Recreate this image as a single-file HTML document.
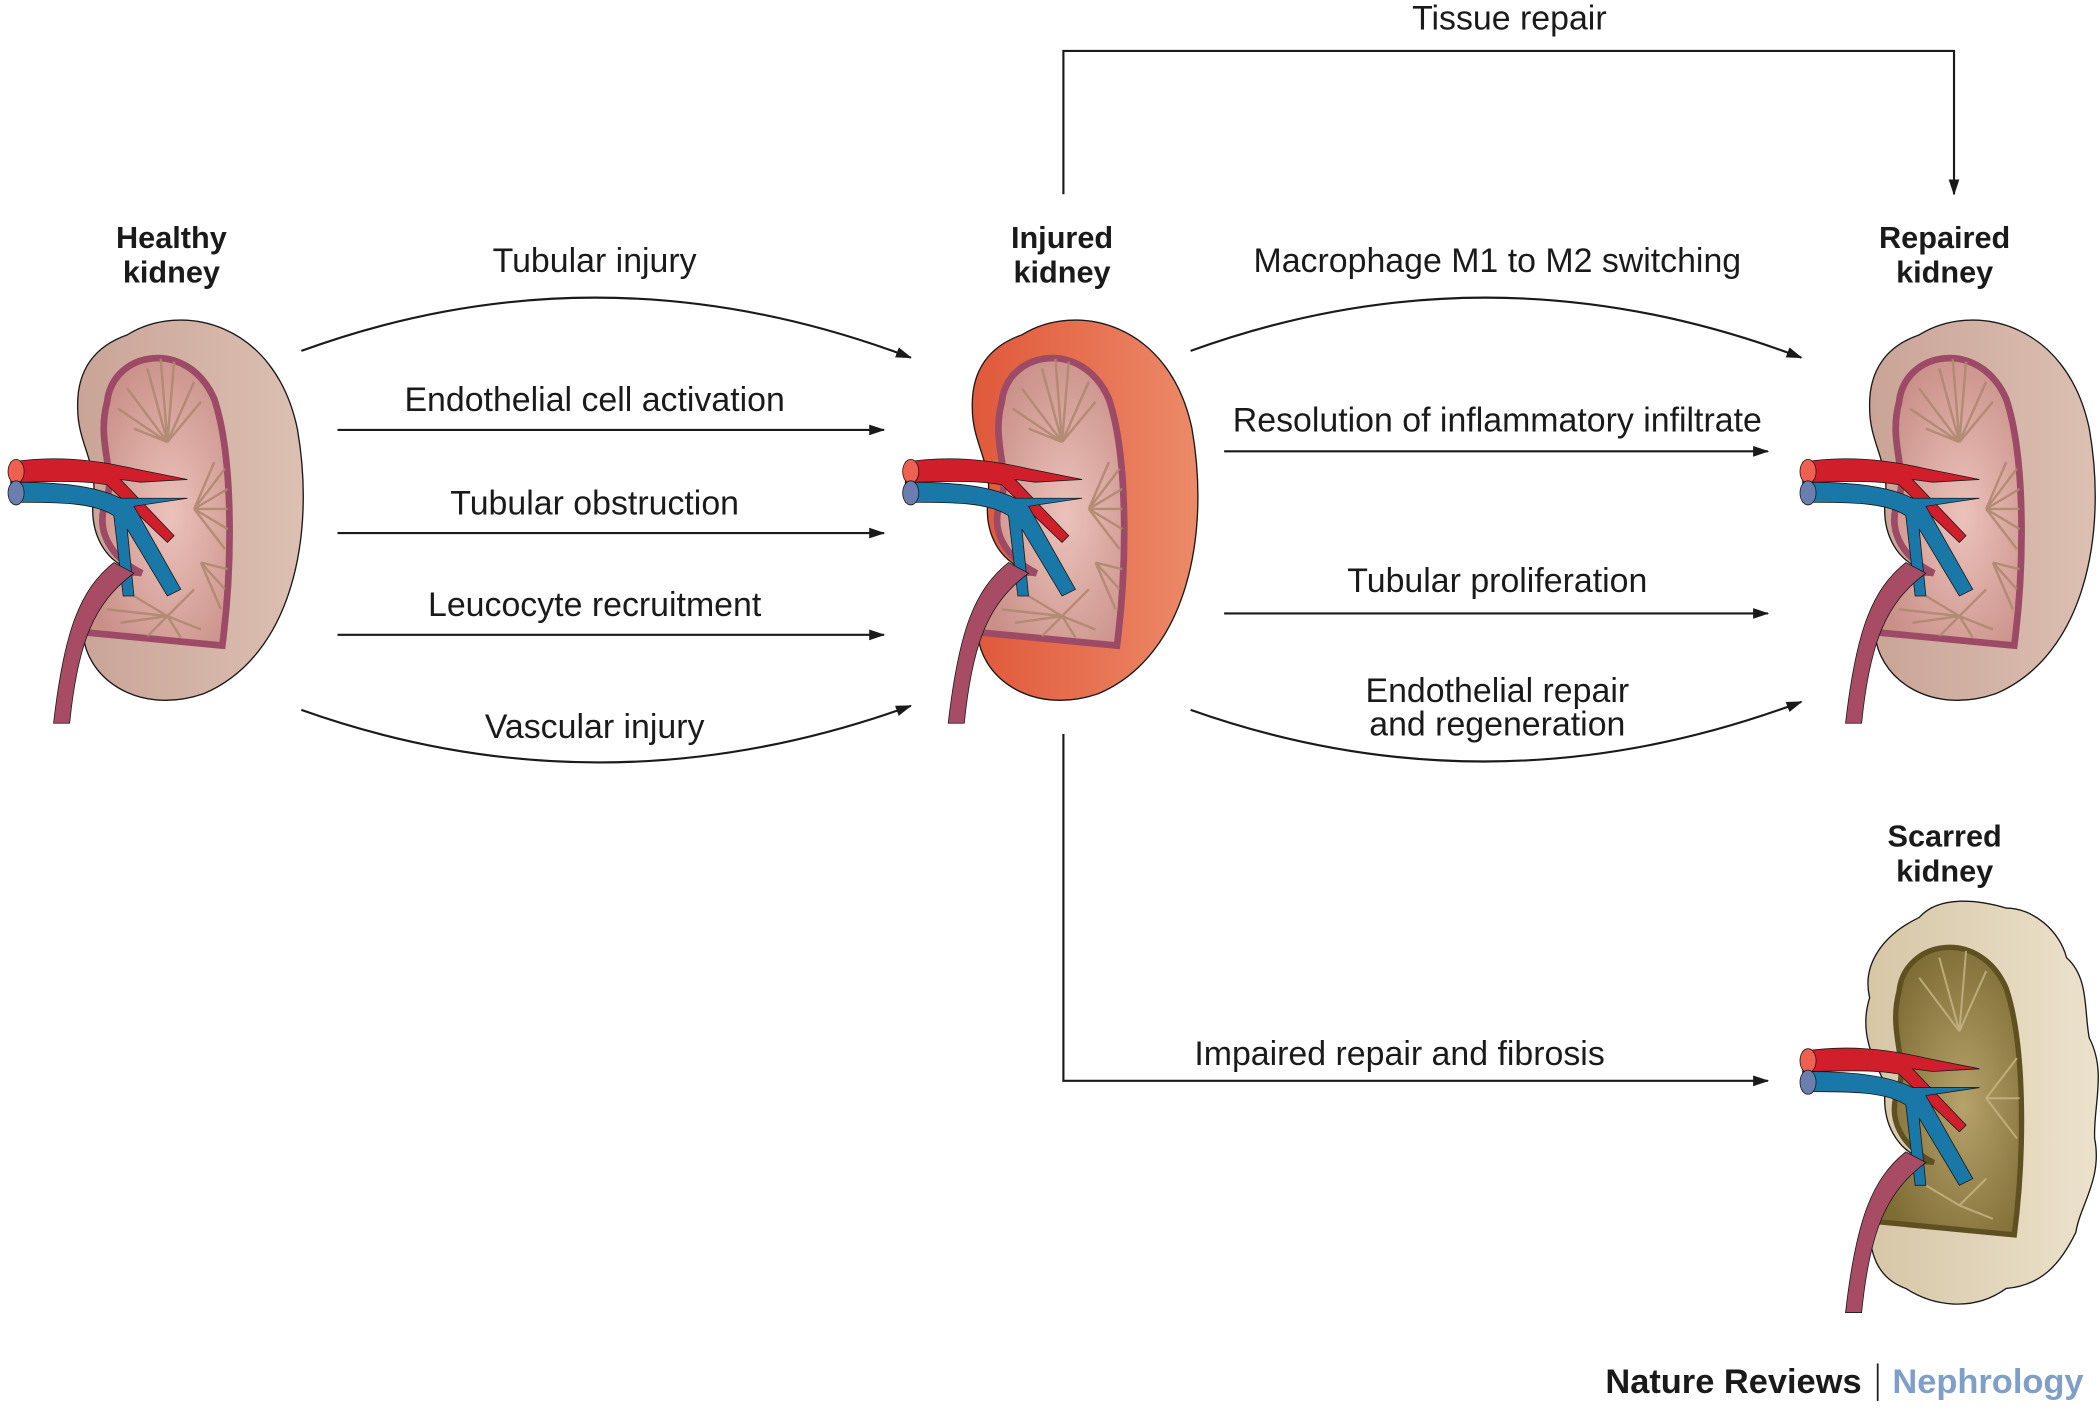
<!DOCTYPE html>
<html><head><meta charset="utf-8"><style>
html,body{margin:0;padding:0;background:#fff;}
svg{display:block;}
text{font-family:"Liberation Sans",sans-serif;fill:#1a1a1a;}
.l{font-size:25.3px;text-anchor:middle;}
.t{font-size:22.9px;font-weight:bold;text-anchor:middle;}
</style></head><body>
<svg width="2100" height="1409" viewBox="0 0 1568 1052" preserveAspectRatio="none" xmlns="http://www.w3.org/2000/svg">
<defs>
<marker id="a" markerWidth="12" markerHeight="10" refX="11" refY="5" orient="auto" markerUnits="userSpaceOnUse">
<path d="M0,1 L12,5 L0,9 Z" fill="#1a1a1a"/></marker>
<radialGradient id="cut" cx="0.6" cy="0.55" r="0.6"><stop offset="0" stop-color="#ebc2bb"/><stop offset="1" stop-color="#c99088"/></radialGradient>
<radialGradient id="cutS" cx="0.6" cy="0.55" r="0.6"><stop offset="0" stop-color="#b6a26a"/><stop offset="1" stop-color="#7d6c34"/></radialGradient>
<linearGradient id="outH" x1="0" x2="1"><stop offset="0" stop-color="#c9a497"/><stop offset="1" stop-color="#dcc0b2"/></linearGradient>
<linearGradient id="outI" x1="0" x2="1"><stop offset="0" stop-color="#e0583a"/><stop offset="1" stop-color="#ec8a68"/></linearGradient>
<linearGradient id="outS" x1="0" x2="1"><stop offset="0" stop-color="#d6c6a6"/><stop offset="1" stop-color="#ece2cc"/></linearGradient>
<g id="vess">
 <path d="M8,345 C40,340 70,343 100,350 L140,358 L105,360 L90,358 L130,400 L125,405 L80,362 C60,358 30,360 8,360 Z" fill="#d01e2a" stroke="#1a1a1a" stroke-width="0.6"/>
 <path d="M8,360 C40,360 70,362 90,372 L140,372 L100,378 L135,440 L125,445 L95,395 L100,445 L92,445 L85,385 C70,375 45,375 8,375 Z" fill="#1a78a8" stroke="#1a1a1a" stroke-width="0.6"/>
 <ellipse cx="12" cy="352" rx="6" ry="9" fill="#f06050" stroke="#1a1a1a" stroke-width="0.6"/>
 <ellipse cx="12" cy="368" rx="6" ry="9" fill="#6a7fb0" stroke="#1a1a1a" stroke-width="0.6"/>
 <path d="M85,420 C60,440 48,470 40,540 L52,540 C58,480 70,450 100,428 Z" fill="#a84b65" stroke="#1a1a1a" stroke-width="0.6"/>
</g>
<g id="inner">
 <path d="M80,300 C84,262 140,252 160,298 C174,340 174,420 166,482 L62,472 C62,440 88,424 106,428 C82,416 70,395 80,372 C86,350 72,330 80,300 Z" fill="url(#cut)" stroke="#9c4a66" stroke-width="5"/>
 <g stroke="#b08870" stroke-width="1.8" opacity="0.9">
  <path d="M125,330 L95,290 M125,330 L110,275 M125,330 L130,270 M125,330 L145,285 M125,330 L100,320 M125,330 L88,305 M125,330 L120,268 M125,330 L150,300"/>
  <path d="M145,380 L168,350 M145,380 L170,380 M145,380 L168,410 M145,380 L160,345 M145,380 L170,365 M145,380 L170,395"/>
  <path d="M125,460 L100,445 M125,460 L110,475 M125,460 L150,470 M125,460 L145,440 M125,460 L90,465 M125,460 L135,476 M125,460 L80,455"/>
  <path d="M150,420 L168,440 M150,420 L170,425 M150,420 L165,455"/>
 </g>
 <use href="#vess"/>
</g>
<path id="outer" d="M95,250 C135,225 205,240 222,320 C236,400 218,490 152,518 C102,535 62,505 62,470 C62,440 85,428 102,427 C78,420 66,398 70,370 C72,345 58,330 58,305 C57,275 72,258 95,250 Z"/>
</defs>

<use href="#outer" fill="url(#outH)" stroke="#1a1a1a" stroke-width="1"/>
<use href="#inner"/>
<g transform="translate(668,0)"><use href="#outer" fill="url(#outI)" stroke="#1a1a1a" stroke-width="1"/><use href="#inner"/></g>
<g transform="translate(1338,0)"><use href="#outer" fill="url(#outH)" stroke="#1a1a1a" stroke-width="1"/><use href="#inner"/></g>
<g transform="translate(1338,440)">
 <path d="M95,245 C110,228 140,232 160,238 C180,238 200,255 205,275 C222,290 218,315 222,335 C235,360 225,385 226,410 C232,440 215,460 212,480 C200,505 185,520 160,522 C135,540 105,535 85,522 C65,515 55,495 60,470 C62,445 85,428 102,427 C78,420 66,398 70,370 C60,350 50,330 58,305 C52,280 68,258 95,245 Z" fill="url(#outS)" stroke="#1a1a1a" stroke-width="1"/>
 <path d="M80,300 C84,262 140,252 160,298 C174,340 174,420 166,482 L62,472 C62,440 88,424 106,428 C82,416 70,395 80,372 C86,350 72,330 80,300 Z" fill="url(#cutS)" stroke="#5e5020" stroke-width="4"/>
 <g stroke="#c8b888" stroke-width="1.5" opacity="0.8">
  <path d="M125,330 L95,290 M125,330 L110,275 M125,330 L130,270 M125,330 L145,285 M145,380 L168,350 M145,380 L170,380 M145,380 L168,410 M125,460 L100,445 M125,460 L150,470 M125,460 L145,440"/>
 </g>
 <use href="#vess"/>
</g>

<text class="t" x="128" y="185">Healthy</text><text class="t" x="128" y="211">kidney</text>
<text class="t" x="793" y="185">Injured</text><text class="t" x="793" y="211">kidney</text>
<text class="t" x="1452" y="185">Repaired</text><text class="t" x="1452" y="211">kidney</text>
<text class="t" x="1452" y="632">Scarred</text><text class="t" x="1452" y="658">kidney</text>

<g stroke="#1a1a1a" stroke-width="1.6" fill="none" marker-end="url(#a)">
 <path d="M225,262 Q450,180 680,267"/>
 <path d="M252,321 L660,321"/>
 <path d="M252,398 L660,398"/>
 <path d="M252,474 L660,474"/>
 <path d="M225,530 Q450,610 680,527"/>
 <path d="M889,262 Q1115,180 1345,267"/>
 <path d="M914,337 L1320,337"/>
 <path d="M914,458 L1320,458"/>
 <path d="M889,530 Q1115,610 1345,524"/>
 <path d="M794,145 L794,38 L1459,38 L1459,145"/>
 <path d="M794,548 L794,807 L1320,807"/>
</g>

<text class="l" x="444" y="203">Tubular injury</text>
<text class="l" x="444" y="307">Endothelial cell activation</text>
<text class="l" x="444" y="384">Tubular obstruction</text>
<text class="l" x="444" y="460">Leucocyte recruitment</text>
<text class="l" x="444" y="551">Vascular injury</text>
<text class="l" x="1118" y="203">Macrophage M1 to M2 switching</text>
<text class="l" x="1118" y="322">Resolution of inflammatory infiltrate</text>
<text class="l" x="1118" y="442">Tubular proliferation</text>
<text class="l" x="1118" y="524">Endothelial repair</text>
<text class="l" x="1118" y="549">and regeneration</text>
<text class="l" x="1127" y="22">Tissue repair</text>
<text class="l" x="1045" y="795">Impaired repair and fibrosis</text>

<text x="1390" y="1040" style="font-size:25.7px;font-weight:bold;text-anchor:end;">Nature Reviews</text>
<line x1="1402" y1="1018" x2="1402" y2="1046" stroke="#1a1a1a" stroke-width="1.3"/>
<text x="1413" y="1040" style="font-size:25.7px;font-weight:bold;fill:#7f9fc8;">Nephrology</text>
</svg>
</body></html>
